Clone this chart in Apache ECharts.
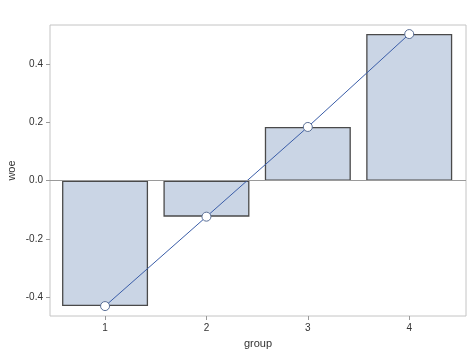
<!DOCTYPE html>
<html><head><meta charset="utf-8">
<script src="https://cdn.jsdelivr.net/npm/echarts@6/dist/echarts.min.js"></script>
<style>html,body{margin:0;padding:0;background:#fff}#c{width:474px;height:355px}</style>
</head><body><div id="c"></div>
<script>
const groups = [1, 2, 3, 4];
const woe = [-0.429, -0.123, 0.184, 0.502];
const yTicks = [-0.4, -0.2, 0.0, 0.2, 0.4];
const xTicks = [1, 2, 3, 4];

const chart = echarts.init(document.getElementById('c'));
const pts = groups.map((g, i) => [g, woe[i]]);
chart.setOption({
  animation: false,
  grid: { left: 50, right: 8, top: 25, bottom: 39, show: true, borderColor: '#c4c4c4', borderWidth: 1, backgroundColor: '#fff', containLabel: false, outerBoundsMode: 'none' },
  xAxis: {
    type: 'value', min: 0.457, max: 4.56,
    name: 'group', nameLocation: 'middle', nameGap: 22, nameMoveOverlap: false,
    nameTextStyle: { color: '#333', fontSize: 11, fontFamily: 'Liberation Sans' },
    axisLine: { show: false, onZero: false },
    axisTick: { show: true, customValues: xTicks, length: 4, lineStyle: { color: '#999' } },
    axisLabel: { customValues: xTicks, color: '#333', fontSize: 10, fontFamily: 'Liberation Sans', margin: 7, formatter: v => String(v) },
    splitLine: { show: false }
  },
  yAxis: {
    type: 'value', min: -0.463, max: 0.533,
    name: 'woe', nameLocation: 'middle', nameGap: 33, nameRotate: 90, nameMoveOverlap: false,
    nameTextStyle: { color: '#333', fontSize: 11, fontFamily: 'Liberation Sans' },
    axisLine: { show: false, onZero: false },
    axisTick: { show: true, customValues: yTicks, length: 4, lineStyle: { color: '#999' } },
    axisLabel: { customValues: yTicks, color: '#333', fontSize: 10, fontFamily: 'Liberation Sans', margin: 7, formatter: v => v.toFixed(1) },
    splitLine: { show: false }
  },
  series: [
    {
      type: 'bar', data: pts, barWidth: 86,
      itemStyle: { color: '#cad5e5', borderColor: '#4a4a4a', borderWidth: 1.3 },
      markLine: { silent: true, symbol: 'none', label: { show: false },
        lineStyle: { color: '#9a9a9a', type: 'solid', width: 1 }, data: [{ yAxis: 0 }] }
    },
    {
      type: 'line', data: pts, symbol: 'circle', symbolSize: 9,
      lineStyle: { color: '#3a5da8', width: 1 },
      itemStyle: { color: '#fff', borderColor: '#5a6f96', borderWidth: 1 }
    }
  ]
});
</script></body></html>
